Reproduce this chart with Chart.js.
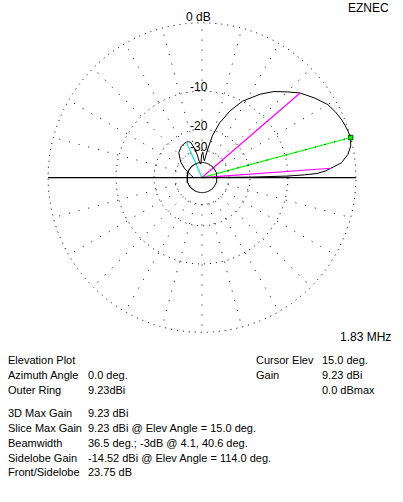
<!DOCTYPE html>
<html><head><meta charset="utf-8">
<script src="https://cdn.jsdelivr.net/npm/chart.js@4.4.1/dist/chart.umd.min.js"></script>
<style>
body{margin:0;background:#fff;width:403px;height:502px;overflow:hidden;position:relative;font-family:"Liberation Sans",Arial,sans-serif;font-size:11px;color:#000}
#c{position:absolute;left:0;top:0;z-index:2}
.t{position:absolute;white-space:nowrap;line-height:13px;z-index:1}
.p{font-size:12px}
</style></head><body>
<canvas id="c" width="403" height="502"></canvas>
<script>
// Elevation angle (deg) and pattern gain relative to max (dB)
const elevAngles = [0,0.5,1,1.5,2,3,4.1,6,9,12,15,18,22,26,30,35,40.6,45,50,55,62,67,72,76,79,82,85,88,91,95,99,102,105,108,111,114,118,124,133,144,152,158,166,174,180];
const gainDb     = [-99,-20,-10,-7,-5,-3.8,-3,-1.6,-0.7,-0.2,0,-0.1,-0.3,-0.6,-1.0,-1.9,-3,-4.2,-5.5,-7.2,-10,-13,-17,-22,-30,-38,-36,-31,-33,-42,-40,-32,-27.5,-24.5,-23.9,-23.75,-23.9,-24.4,-25.9,-30.3,-35,-39.3,-44,-47.4,-48];
const ringDb = [0,-10,-20,-30];
const ringLabels = ["0 dB","-10","-20","-30"];
const maxAngle = 15.0, bw3dB = [4.1,40.6], sideAngle = 114.0, sideDb = -23.75;

const R = 158;
function rad(db){ return R*Math.pow(0.89, -db/2); }
function pt(ang, db){ const a=ang*Math.PI/180, r=rad(db); return {x:r*Math.cos(a), y:r*Math.sin(a)}; }
function ring(db){ const o=[]; for(let a=0;a<=360;a+=2) o.push(pt(a,db)); return o; }

const ds = [];
ringDb.forEach(d=>ds.push({data:ring(d),borderColor:'#000',borderWidth:1,borderDash:[1,5],showLine:true,pointRadius:0}));
ds.push({data:ring(-40),borderColor:'#000',borderWidth:1,showLine:true,pointRadius:0});
for(let a=0;a<360;a+=15){ if(a===0||a===180) continue;
  ds.push({data:[pt(a,-30),pt(a,0)],borderColor:'#000',borderWidth:1,borderDash:[1,9],showLine:true,pointRadius:0}); }
ds.push({data:[{x:-R,y:0},{x:R,y:0}],borderColor:'#000',borderWidth:1.3,showLine:true,pointRadius:0});
bw3dB.forEach(a=>ds.push({data:[{x:0,y:0},pt(a,-3)],borderColor:'#ff00ff',borderWidth:1.2,showLine:true,pointRadius:0}));
ds.push({data:[{x:0,y:0},pt(sideAngle,sideDb)],borderColor:'#00e0e0',borderWidth:1.2,showLine:true,pointRadius:0});
ds.push({data:[{x:0,y:0},pt(maxAngle,0)],borderColor:'#00ff00',borderWidth:1.2,showLine:true,pointRadius:[0,3],pointStyle:'rect',pointBackgroundColor:'#00ff00',pointBorderColor:'#008000'});
ds.push({data:elevAngles.map((a,i)=>pt(a,gainDb[i])),borderColor:'#000',borderWidth:1,showLine:true,pointRadius:0});

new Chart(document.getElementById('c'),{type:'scatter',data:{datasets:ds},
 options:{responsive:false,animation:false,events:[],layout:{padding:0},
  plugins:{legend:{display:false},tooltip:{enabled:false}},
  scales:{x:{type:'linear',min:-202,max:201,display:false},y:{type:'linear',min:-326,max:176,display:false}}}});

const cx=202, cy=176;
ringDb.forEach((d,i)=>{const e=document.createElement('div');e.className='t p';e.textContent=ringLabels[i];
  const r=rad(d); e.style.left=(cx-(i?12:16))+'px'; e.style.top=(cy-r-7)+'px'; document.body.appendChild(e);});
const texts=[
 [348,2,'EZNEC','p'],[340,331,'1.83 MHz','p'],
 [8,354,'Elevation Plot'],[256,354,'Cursor Elev'],[322,354,'15.0 deg.'],
 [8,369,'Azimuth Angle'],[88,369,'0.0 deg.'],[256,369,'Gain'],[322,369,'9.23 dBi'],
 [8,384,'Outer Ring'],[88,384,'9.23dBi'],[322,384,'0.0 dBmax'],
 [8,407,'3D Max Gain'],[88,407,'9.23 dBi'],
 [8,422,'Slice Max Gain'],[88,422,'9.23 dBi @ Elev Angle = 15.0 deg.'],
 [8,437,'Beamwidth'],[88,437,'36.5 deg.; -3dB @ 4.1, 40.6 deg.'],
 [8,452,'Sidelobe Gain'],[88,452,'-14.52 dBi @ Elev Angle = 114.0 deg.'],
 [8,466,'Front/Sidelobe'],[88,466,'23.75 dB']];
texts.forEach(([x,y,s,c])=>{const e=document.createElement('div');e.className='t'+(c?' '+c:'');e.textContent=s;e.style.left=x+'px';e.style.top=y+'px';document.body.appendChild(e);});
</script></body></html>
